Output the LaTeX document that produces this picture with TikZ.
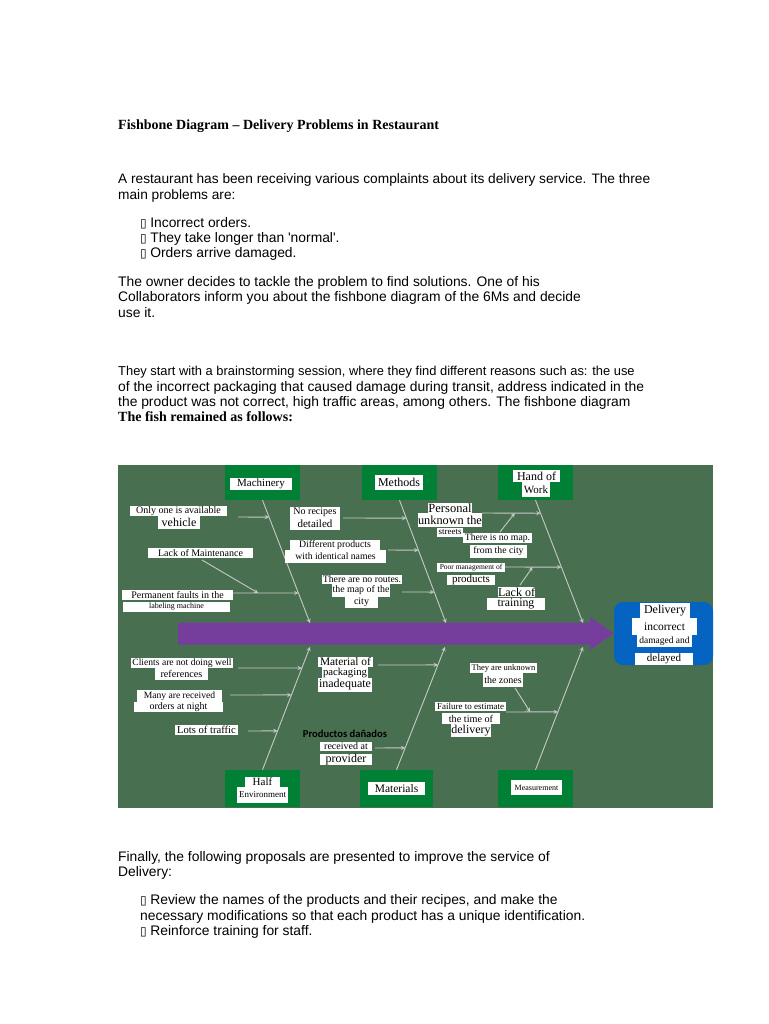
\documentclass[tikz,border=0pt]{standalone}
\usepackage{fontspec}
\setmainfont{Liberation Serif}
\newfontfamily\arial{Liberation Sans}
\newfontfamily\carl{Carlito}
\newfontfamily\dejavu{DejaVu Sans}
\usepackage{tikz}
\usetikzlibrary{arrows,shapes}
\usetikzlibrary{positioning}
\usetikzlibrary{calc}
\definecolor{fishbg}{RGB}{72,112,80}
\definecolor{catgreen}{RGB}{0,128,52}
\definecolor{headblue}{RGB}{5,99,193}
\definecolor{spinepurple}{RGB}{118,62,156}
\definecolor{bonegray}{RGB}{200,200,200}
\newcommand{\fsz}[1]{\fontsize{#1}{#1}\selectfont}
\newcommand{\bul}{{\dejavu\fontsize{12}{12}\selectfont ▯}\hspace{3.5pt}}
\tikzset{
	>=stealth,
    body/.style={anchor=base west, inner sep=0pt, font=\arial\fsz{13.85}},
    heading/.style={anchor=base west, inner sep=0pt, font=\bfseries\fsz{14}},
    wlabel/.style={fill=white, inner sep=0pt, font=\fsz{10}},
    catbox/.style={fill=catgreen, minimum width=75pt, minimum height=35pt, inner sep=0pt},
    headbox/.style={fill=headblue, rounded corners=9pt, minimum width=99pt, minimum height=63pt, inner sep=0pt},
    bone/.style={draw=bonegray, line width=0.9pt, ->},
    cause/.style={draw=bonegray, line width=0.9pt, ->}
}

\begin{document}
\begin{tikzpicture}[x=1pt,y=-1pt]
	\fill[white] (0,0) rectangle (768,1024);
	\useasboundingbox (0,0) rectangle (768,1024);
	% text of the page
	\node[heading] (title) at (118,129.5) {Fishbone Diagram – Delivery Problems in Restaurant};
	\node[body, font=\arial\fsz{13.7}] (intro1) at (118,184) {A restaurant has been receiving various complaints about its delivery service. The three};
	\node[body, font=\arial\fsz{13.7}] (intro2) at (118,200) {main problems are:};
	\node[body] (prob1) at (140,227) {\bul Incorrect orders.};
	\node[body] (prob2) at (140,242.5) {\bul They take longer than \textquotesingle normal\textquotesingle.};
	\node[body] (prob3) at (140,258) {\bul Orders arrive damaged.};
	\node[body] (owner1) at (118,286) {The owner decides to tackle the problem to find solutions. One of his};
	\node[body] (owner2) at (118,301) {Collaborators inform you about the fishbone diagram of the 6Ms and decide};
	\node[body] (owner3) at (118,317) {use it.};
	\node[body, font=\arial\fsz{12.9}] (brain1) at (118,375) {They start with a brainstorming session, where they find different reasons such as: the use};
	\node[body] (brain2) at (118,391) {of the incorrect packaging that caused damage during transit, address indicated in the};
	\node[body] (brain3) at (118,406) {the product was not correct, high traffic areas, among others. The fishbone diagram};
	\node[heading] (brain4) at (118,421) {The fish remained as follows:};
	\node[body] (final1) at (118,861) {Finally, the following proposals are presented to improve the service of};
	\node[body] (final2) at (118,876) {Delivery:};
	\node[body] (prop1) at (140,904) {\bul Review the names of the products and their recipes, and make the};
	\node[body] (prop1b) at (140,920) {necessary modifications so that each product has a unique identification.};
	\node[body] (prop2) at (140,935) {\bul Reinforce training for staff.};

	% the fish
	\fill[fishbg] (118,465) rectangle (713,808);
	\fill[spinepurple] (178,622.5) -- (590,622.5) -- (590,617) -- (614,633.5) -- (590,650) -- (590,644.5) -- (178,644.5) -- cycle;
	\node[headbox] (deliv) at (663.5,633.5) {};
	\node[wlabel, minimum width=50, minimum height=15, font=\fsz{12}] (dl1) at (665,610.5) {Delivery};
	\node[wlabel, minimum width=65, minimum height=17, font=\fsz{11.5}] (dl2) at (664.5,626.5) {incorrect};
	\node[wlabel, minimum width=55, minimum height=12, font=\fsz{9.5}] (dl3) at (664.5,641) {damaged and};
	\node[wlabel, minimum width=58, minimum height=12, font=\fsz{11}] (dl4) at (664,659) {delayed};

	\node[catbox] (mach) at (262.5,482.5) {};
	\node[catbox] (meth) at (399.5,482.5) {};
	\node[catbox] (hand) at (535.5,482.5) {};
	\node[catbox, minimum height=37pt] (half) at (262.5,788.5) {};
	\node[catbox, minimum width=73pt, minimum height=37pt] (matl) at (396.5,788.5) {};
	\node[catbox, minimum height=37pt] (meas) at (535.5,788.5) {};
	\node[wlabel, minimum width=62, minimum height=12, font=\fsz{11}] (machl) at (261,484) {Machinery};
	\node[wlabel, minimum width=48, minimum height=15, font=\fsz{12}] (methl) at (399,482.5) {Methods};
	\node[wlabel, minimum width=47, minimum height=12, font=\fsz{12}] (handl1) at (536.5,476) {Hand of};
	\node[wlabel, minimum width=28, minimum height=15, font=\fsz{11}] (handl2) at (536,489.5) {Work};
	\node[wlabel, minimum width=35, minimum height=10, font=\fsz{11}] (halfl1) at (262.5,782) {Half};
	\node[wlabel, minimum width=51, minimum height=16, font=\fsz{9}] (halfl2) at (262.5,795) {Environment};
	\node[wlabel, minimum width=57, minimum height=13, font=\fsz{11.5}] (matll) at (396.5,788.5) {Materials};
	\node[wlabel, minimum width=51, minimum height=15, font=\fsz{8}] (measl) at (536.5,787.5) {Measurement};

	% bones
	\coordinate (machtip) at (310,623);
	\coordinate (methtip) at (446,623);
	\coordinate (handtip) at (583,623);
	\coordinate (halftip) at (310,647);
	\coordinate (matltip) at (445,647);
	\coordinate (meastip) at (583,647);
	\draw[bone] (mach.south) -- (machtip);
	\draw[bone] (meth.south) -- (methtip);
	\draw[bone] (hand.south) -- (handtip);
	\draw[bone] (half.north) -- (halftip);
	\draw[bone] (matl.north) -- (matltip);
	\draw[bone] (meas.north) -- (meastip);

	% machinery causes
	\node[wlabel, minimum width=97, minimum height=9, font=\fsz{10}] (avail) at (178.5,511) {Only one is available};
	\node[wlabel, minimum width=42, minimum height=14, font=\fsz{12}] (vehicle) at (179,522) {vehicle};
	\node[wlabel, minimum width=105, minimum height=10, font=\fsz{10}] (maint) at (200.5,553) {Lack of Maintenance};
	\node[wlabel, minimum width=111, minimum height=10, font=\fsz{10}] (perm) at (177.5,595) {Permanent faults in the};
	\node[wlabel, minimum width=107, minimum height=10, font=\fsz{8}] (label) at (176.5,607) {labeling machine};
	\coordinate (c-avail) at (238,517);
	\coordinate (c-perm) at (233,593);
	\coordinate (c-maint) at (202,560);
	\coordinate (b-avail) at ($(mach.south)!0.138!(machtip)$);
	\coordinate (b-perm) at ($(mach.south)!0.756!(machtip)$);
	\draw[cause] (c-avail) -- (b-avail);
	\draw[cause] (c-perm) -- (b-perm);
	\draw[cause] (c-maint) -- ($(c-perm)!0.385!(b-perm)$);

	% methods causes
	\node[wlabel, minimum width=50, minimum height=11, font=\fsz{10}] (norec) at (315,512.5) {No recipes};
	\node[wlabel, minimum width=50, minimum height=12, font=\fsz{11}] (detail) at (315,524) {detailed};
	\node[wlabel, minimum width=90, minimum height=10, font=\fsz{9.8}] (diffp) at (335,545) {Different products};
	\node[wlabel, minimum width=101, minimum height=13, font=\fsz{9.7}] (ident) at (335.5,556.5) {with identical names};
	\node[wlabel, minimum width=80, minimum height=9, font=\fsz{9.8}] (noroute) at (362,579) {There are no routes.};
	\node[wlabel, minimum width=58, minimum height=14, font=\fsz{9.9}] (mapof) at (361,590) {the map of the};
	\node[wlabel, minimum width=33, minimum height=11, font=\fsz{10}] (city) at (361.5,602.5) {city};
	\coordinate (c-norec) at (343,518);
	\coordinate (c-diffp) at (388,550);
	\coordinate (c-route) at (402,592);
	\draw[cause] (c-norec) -- ($(meth.south)!0.146!(methtip)$);
	\draw[cause] (c-diffp) -- ($(meth.south)!0.407!(methtip)$);
	\draw[cause] (c-route) -- ($(meth.south)!0.748!(methtip)$);

	% hand of work causes
	\node[wlabel, minimum width=44, minimum height=11, font=\fsz{12.5}] (pers) at (450,508) {Personal};
	\node[wlabel, minimum width=64, minimum height=14, font=\fsz{12.3}] (unkn) at (450,520) {unknown the};
	\node[wlabel, minimum width=26, minimum height=9, font=\fsz{9}] (street) at (450,532.5) {streets};
	\node[wlabel, minimum width=69, minimum height=10, font=\fsz{9.7}] (nomap) at (497.5,538) {There is no map.};
	\node[wlabel, minimum width=57, minimum height=13, font=\fsz{9.7}] (fromc) at (498.5,551.5) {from the city};
	\node[wlabel, minimum width=68, minimum height=9, font=\fsz{7.5}] (poor) at (471,567.5) {Poor management of};
	\node[wlabel, minimum width=48, minimum height=10, font=\fsz{11}] (prod) at (471,580) {products};
	\node[wlabel, minimum width=37, minimum height=10, font=\fsz{12}] (lackof) at (516.5,592) {Lack of};
	\node[wlabel, minimum width=58, minimum height=12, font=\fsz{11.8}] (train) at (516,604) {training};
	\coordinate (c-pers) at (482,513);
	\coordinate (c-poor) at (505,567);
	\coordinate (c-nomap) at (500,532);
	\coordinate (c-lack) at (520,585);
	\coordinate (b-pers) at ($(hand.south)!0.106!(handtip)$);
	\coordinate (b-poor) at ($(hand.south)!0.545!(handtip)$);
	\draw[cause] (c-pers) -- (b-pers);
	\draw[cause] (c-poor) -- (b-poor);
	\draw[cause] (c-nomap) -- ($(c-pers)!0.56!(b-pers)$);
	\draw[cause] (c-lack) -- ($(c-poor)!0.49!(b-poor)$);

	% environment causes
	\node[wlabel, minimum width=102, minimum height=10, font=\fsz{9.6}] (client) at (182,663) {Clients are not doing well};
	\node[wlabel, minimum width=53, minimum height=12, font=\fsz{10.2}] (refs) at (181.5,674) {references};
	\node[wlabel, minimum width=85, minimum height=12, font=\fsz{9.6}] (many) at (179.5,696) {Many are received};
	\node[wlabel, minimum width=89, minimum height=10, font=\fsz{10}] (night) at (178.5,707) {orders at night};
	\node[wlabel, minimum width=63, minimum height=10, font=\fsz{10.6}] (traffic) at (206.5,730) {Lots of traffic};
	\coordinate (c-client) at (238,668);
	\coordinate (c-many) at (230,695);
	\coordinate (c-traffic) at (248,731);
	\draw[cause] (c-client) -- ($(half.north)!0.829!(halftip)$);
	\draw[cause] (c-many) -- ($(half.north)!0.61!(halftip)$);
	\draw[cause] (c-traffic) -- ($(half.north)!0.317!(halftip)$);

	% materials causes
	\node[wlabel, minimum width=55, minimum height=10, font=\fsz{11.4}] (matof) at (345.5,662) {Material of};
	\node[wlabel, minimum width=46, minimum height=11, font=\fsz{10.7}] (pack) at (345,672.5) {packaging};
	\node[wlabel, minimum width=54, minimum height=14, font=\fsz{12}] (inad) at (345,685) {inadequate};
	\node[inner sep=0pt, font=\carl\bfseries\fsz{10.6}] (damaged) at (345,734) {Productos dañados};
	\node[wlabel, minimum width=52, minimum height=9, font=\fsz{10}] (recv) at (346,746.5) {received at};
	\node[wlabel, minimum width=52, minimum height=10, font=\fsz{12}] (prov) at (346,759.5) {provider};
	\coordinate (c-pack) at (378,665);
	\coordinate (c-recv) at (375,748);
	\draw[cause] (c-pack) -- ($(matl.north)!0.854!(matltip)$);
	\draw[cause] (c-recv) -- ($(matl.north)!0.179!(matltip)$);

	% measurement causes
	\node[wlabel, minimum width=67, minimum height=10, font=\fsz{8.5}] (unknz) at (503.5,668) {They are unknown};
	\node[wlabel, minimum width=40, minimum height=14, font=\fsz{10}] (zones) at (503,680) {the zones};
	\node[wlabel, minimum width=71, minimum height=9, font=\fsz{9}] (fail) at (470.5,706.5) {Failure to estimate};
	\node[wlabel, minimum width=58, minimum height=11, font=\fsz{10.2}] (timeof) at (471,718.5) {the time of};
	\node[wlabel, minimum width=38, minimum height=13, font=\fsz{12}] (deliv2) at (471,730.5) {delivery};
	\coordinate (c-fail) at (506,712);
	\coordinate (c-zones) at (515,688);
	\coordinate (b-fail) at ($(meas.north)!0.472!(meastip)$);
	\draw[cause] (c-fail) -- (b-fail);
	\draw[cause] (c-zones) -- ($(c-fail)!0.465!(b-fail)$);
\end{tikzpicture}
\end{document}
